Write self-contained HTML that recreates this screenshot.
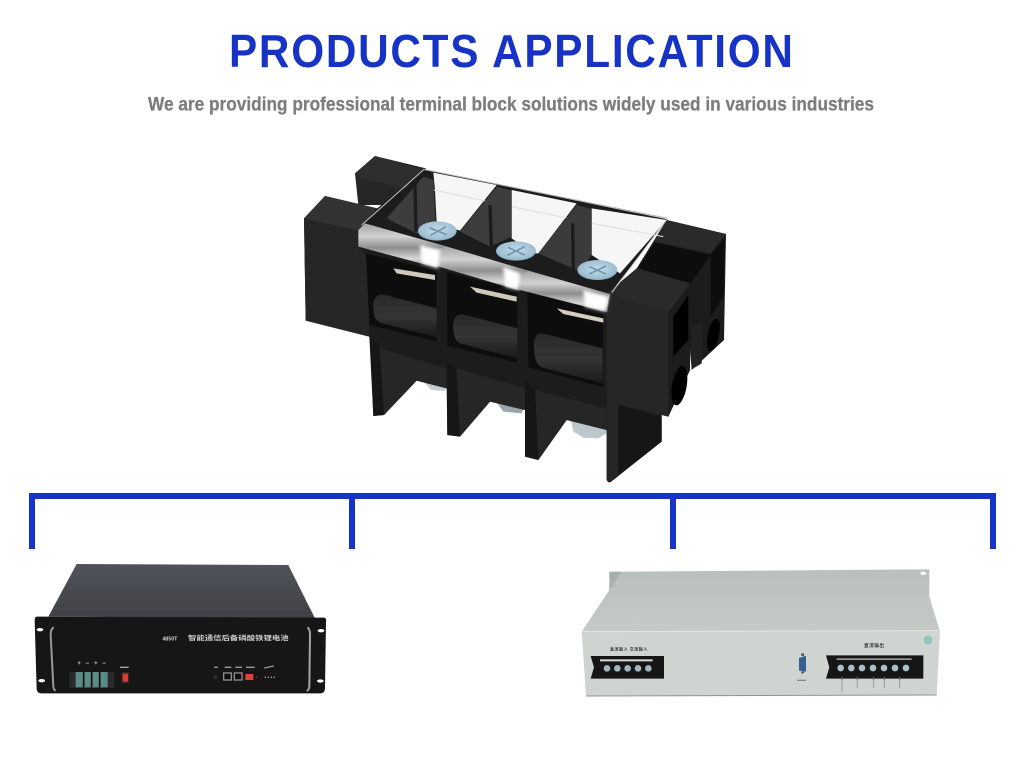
<!DOCTYPE html>
<html><head><meta charset="utf-8"><style>
html,body{margin:0;padding:0;background:#fff;width:1024px;height:768px;overflow:hidden}
svg{display:block}
text{font-family:"Liberation Sans","Noto Sans CJK SC",sans-serif}
</style></head><body>
<svg width="1024" height="768" viewBox="0 0 1024 768" xmlns="http://www.w3.org/2000/svg">
<defs>
<linearGradient id="roll" x1="0" y1="0" x2="0" y2="1"><stop offset="0" stop-color="#a2a2a2"/><stop offset=".3" stop-color="#d2d2d2"/><stop offset=".55" stop-color="#8e8e8e"/><stop offset=".8" stop-color="#d8d8d8"/><stop offset="1" stop-color="#7c7c7c"/></linearGradient>
<linearGradient id="cyl" x1="0" y1="0" x2="0" y2="1"><stop offset="0" stop-color="#2a2a2a"/><stop offset=".5" stop-color="#343434"/><stop offset="1" stop-color="#1b1b1b"/></linearGradient>
<radialGradient id="screw" cx=".5" cy=".45" r=".6"><stop offset="0" stop-color="#c6dbe8"/><stop offset=".75" stop-color="#9fc0d3"/><stop offset="1" stop-color="#7fa0b4"/></radialGradient>
<linearGradient id="top1" x1="0" y1="0" x2="0" y2="1"><stop offset="0" stop-color="#505359"/><stop offset="1" stop-color="#3f4147"/></linearGradient>
<linearGradient id="top2" x1="0" y1="0" x2="0" y2="1"><stop offset="0" stop-color="#b9c0bc"/><stop offset="1" stop-color="#c4cac7"/></linearGradient>
<filter id="soft"><feGaussianBlur stdDeviation=".45"/></filter>
<filter id="glow"><feGaussianBlur stdDeviation="5"/></filter>
</defs>
<rect width="1024" height="768" fill="#fff"/>

<g transform="scale(.92 1)">
<text x="555.4" y="67" font-size="46" font-weight="700" fill="#1733c6" text-anchor="middle" textLength="613" lengthAdjust="spacing">PRODUCTS APPLICATION</text>
</g>
<text x="511" y="110.500" font-size="19.500" font-weight="700" fill="#7d7d7d" stroke="#7d7d7d" stroke-width=".3" text-anchor="middle" textLength="726" lengthAdjust="spacingAndGlyphs">We are providing professional terminal block solutions widely used in various industries</text>

<g fill="#1733c6">
<rect x="29" y="493" width="967" height="6"/>
<rect x="29" y="493" width="6" height="56"/>
<rect x="349" y="493" width="6" height="56"/>
<rect x="670" y="493" width="6" height="56"/>
<rect x="990" y="493" width="6" height="56"/>
</g>

<!-- Terminal block (drawn in 3x crop coordinates) -->
<g transform="translate(290 140) scale(.33333)" filter="url(#soft)">
<!-- back blocks -->
<path d="M1040 385L1130 240L1308 282L1302 600L1205 690L1195 560Z" fill="#1a1a1a"/>
<path d="M1130 240L1308 282L1262 340L1095 305Z" fill="#2a2a2a"/>
<path d="M1045 385L1095 308L1262 345L1200 430Z" fill="#0a0a0a"/>
<path d="M1262 345L1304 295L1300 470L1262 530Z" fill="#090909"/>
<ellipse cx="1270" cy="585" rx="17" ry="50" transform="rotate(12 1270 585)" fill="#050505"/>
<path d="M1205 560L1240 545L1235 670L1205 688Z" fill="#242424"/>
<path d="M195 100L255 48L408 85L330 170L300 195L205 195Z" fill="#252525"/>
<!-- bolts behind -->
<path d="M395 720L425 750L465 753L470 735Z" fill="#c3cdd0"/>
<path d="M615 780L640 815L695 820L705 795Z" fill="#9aa7ac"/>
<path d="M840 830L850 875L880 893L925 895L950 880L950 850Z" fill="#bcc8cc"/>
<!-- main silhouette -->
<path d="M42 235L105 168L262 205L400 88L1133 238L960 460L1040 385L1202 430L1200 690L1135 830L1115 825L1115 905L960 1028L950 1020L950 870L830 840L745 960L705 950L705 810L600 785L510 890L472 885L470 745L380 722L282 825L250 828L238 590L47 542Z" fill="#1e1e1e"/>
<!-- left block faces -->
<path d="M42 235L105 168L262 205L205 272Z" fill="#303030"/>
<path d="M42 235L205 272L205 325L230 345L238 590L47 542Z" fill="#262626"/>
<!-- back-left lighter top -->
<path d="M195 100L255 48L400 88L345 145L210 115Z" fill="#2d2d2d"/>
<!-- windows -->
<path d="M228 340L440 392L440 605L238 555Z" fill="#111"/>
<path d="M470 395L682 452L682 668L472 618Z" fill="#111"/>
<path d="M712 450L940 515L940 742L715 682Z" fill="#111"/>
<path d="M250 490Q255 458 285 465L440 505L440 592L270 548Q248 540 250 490Z" fill="url(#cyl)"/>
<path d="M490 548Q495 518 525 525L682 565L682 655L510 610Q488 600 490 548Z" fill="url(#cyl)"/>
<path d="M732 605Q738 575 765 582L938 625L938 730L755 682Q730 670 732 605Z" fill="url(#cyl)"/>
<path d="M310 385L435 405L435 420L320 400Z" fill="#cfcabb"/>
<path d="M540 440L680 470L680 485L560 458Z" fill="#cfcabb"/>
<path d="M800 505L940 535L940 548L820 522Z" fill="#d4cfc0"/>
<!-- lower body: inner faces of legs -->
<path d="M270 625L470 685L470 745L380 722L282 825L270 820Z" fill="#252525"/>
<path d="M500 685L705 745L705 810L600 785L510 890Z" fill="#252525"/>
<path d="M735 750L950 805L950 870L830 840L745 960Z" fill="#252525"/>
<path d="M240 592L268 615L282 825L250 828Z" fill="#151515"/>
<path d="M470 660L498 685L510 890L472 885Z" fill="#151515"/>
<path d="M705 720L735 750L745 960L705 950Z" fill="#151515"/>
<!-- right lower leg -->
<path d="M950 780L985 795L985 1000L955 1028L950 1020Z" fill="#262626"/>
<path d="M985 795L1115 830L1115 905L985 1003Z" fill="#191919"/>
<!-- front-right block -->
<path d="M950 460L1040 385L1202 430L1135 515Z" fill="#2c2c2c"/>
<path d="M950 460L1135 515L1135 830L950 785Z" fill="#282828"/>
<path d="M1135 515L1202 430L1200 690L1135 830Z" fill="#1f1f1f"/>
<path d="M1150 530L1195 465L1195 600L1150 650Z" fill="#060606"/>
<ellipse cx="1168" cy="737" rx="22" ry="60" transform="rotate(10 1168 737)" fill="#060606"/>
<!-- clear cover: white panes between fins -->
<path d="M430 98L620 135L510 272L440 250L435 150Z" fill="#f6f6f6"/>
<path d="M665 150L860 190L745 340L730 340L665 295Z" fill="#f6f6f6"/>
<path d="M905 205L1130 240L990 400L905 345Z" fill="#f6f6f6"/>
<path d="M400 88L1133 235" stroke="#b0b0b0" stroke-width="3" fill="none"/>
<path d="M402 88L215 255" stroke="#c4c4c4" stroke-width="3" fill="none"/>
<path d="M1133 235L965 458" stroke="#cfcfcf" stroke-width="3" fill="none"/>
<path d="M430 150L620 190M665 200L860 240M905 250L1120 290" stroke="#ddd" stroke-width="3" fill="none"/>
<!-- fins -->
<path d="M400 110L430 120L438 290L380 280L290 235Z" fill="#3e3e3e"/>
<path d="M620 140L665 152L665 290L600 320L510 275Z" fill="#3c3c3c"/>
<path d="M860 195L905 207L905 345L870 395L745 340Z" fill="#3a3a3a"/>
<path d="M375 135L378 275M600 195L604 320M848 250L850 390" stroke="#1d1d1d" stroke-width="10" fill="none"/>
<!-- rolled edge of the cover -->
<path d="M205 270L225 250L465 318L440 330L440 383L205 320Z" fill="url(#roll)"/>
<path d="M440 330L465 318L715 392L690 405L690 452L440 378Z" fill="url(#roll)"/>
<path d="M690 405L715 392L960 462L950 516L690 450Z" fill="url(#roll)"/>
<g fill="#fff" filter="url(#glow)">
<path d="M390 315L450 330L445 385L395 370Z"/>
<path d="M640 380L690 400L685 450L645 440Z"/>
<path d="M880 450L955 470L945 515L885 500Z"/>
</g>
<path d="M960 462L950 516" stroke="#8a8a8a" stroke-width="3"/>
<!-- screws -->
<ellipse cx="442" cy="273" rx="58" ry="29" fill="url(#screw)"/>
<ellipse cx="678" cy="333" rx="60" ry="29" fill="url(#screw)"/>
<ellipse cx="922" cy="390" rx="60" ry="30" fill="url(#screw)"/>
<path d="M418 263L470 284M468 260L422 286M654 322L704 345M704 320L652 346M898 380L948 402M948 378L898 402" stroke="#6f96ad" stroke-width="5" fill="none"/>
</g>

<!-- Battery unit (3x crop coordinates) -->
<g transform="translate(20 550) scale(.33333)" filter="url(#soft)">
<path d="M170 42L805 45L885 205L85 200Z" fill="url(#top1)"/>
<path d="M50 200L912 203Q920 204 918 215L915 415Q915 430 900 430L65 430Q52 430 50 418L44 212Q44 201 50 200Z" fill="#141416"/>
<ellipse cx="60" cy="239" rx="10" ry="5" fill="#fff"/><ellipse cx="65" cy="392" rx="10" ry="5" fill="#fff"/>
<ellipse cx="903" cy="242" rx="10" ry="5" fill="#fff"/><ellipse cx="901" cy="393" rx="10" ry="5" fill="#fff"/>
<path d="M101 232Q92 236 92 255L100 410Q101 420 107 422" stroke="#9a9a9a" stroke-width="6" fill="none"/>
<path d="M862 232Q870 236 870 255L868 410Q867 420 860 423" stroke="#a5a5a5" stroke-width="6" fill="none"/>
<text x="427" y="271" font-size="16" font-weight="700" fill="#d0d0d0">4850T</text>
<text x="504" y="270" font-size="19" font-weight="700" fill="#cfcfcf" textLength="302" lengthAdjust="spacingAndGlyphs">智能通信后备磷酸铁锂电池</text>
<text x="172" y="345" font-size="18" fill="#d0d0d0" font-weight="700" textLength="86" lengthAdjust="spacing">+−+−</text>
<rect x="148" y="366" width="135" height="48" fill="#2c2c2c"/>
<rect x="167" y="366" width="96" height="46" fill="#5a8b86"/>
<path d="M191 366V412M215 366V412M239 366V412" stroke="#111" stroke-width="5"/>
<rect x="305" y="366" width="22" height="34" fill="#2a2a2a"/><rect x="308" y="371" width="16" height="24" fill="#d83a30"/>
<rect x="300" y="350" width="26" height="4" fill="#aaa"/>
<circle cx="587" cy="381" r="7" fill="#2a2a2a"/>
<rect x="609" y="367" width="27" height="25" fill="#8e8e8e"/><rect x="613" y="371" width="19" height="17" fill="#111"/>
<rect x="641" y="367" width="27" height="25" fill="#8e8e8e"/><rect x="645" y="371" width="19" height="17" fill="#111"/>
<rect x="676" y="372" width="24" height="18" fill="#d8433a"/>
<path d="M582 352h12M614 352h20M646 352h20M678 352h26M733 354l28-6" stroke="#9a9a9a" stroke-width="4"/>
<path d="M734 382h32" stroke="#a0a0a0" stroke-width="4" stroke-dasharray="4 5"/>
<circle cx="710" cy="381" r="2" fill="#c33"/>
</g>

<!-- Power unit (3x crop coordinates) -->
<g transform="translate(570 560) scale(.33333)" filter="url(#soft)">
<path d="M118 35L155 35L118 95Z" fill="#a7b0ad"/>
<path d="M155 35L1078 28L1078 110L1110 215L35 215Z" fill="url(#top2)"/>
<ellipse cx="1060" cy="40" rx="9" ry="5" fill="#fff"/>
<path d="M35 215L1110 212L1100 405L48 408Z" fill="#cfd4d1"/>
<path d="M48 408L1100 405" stroke="#8d9492" stroke-width="3"/>
<path d="M35 215L1110 212" stroke="#e2e5e3" stroke-width="3"/>
<circle cx="1074" cy="240" r="13" fill="#8ec5c0"/>
<text x="120" y="272" font-size="12" font-weight="700" fill="#333" textLength="112" lengthAdjust="spacing">直流输入 交流输入</text>
<text x="882" y="261" font-size="14" font-weight="700" fill="#333" textLength="60" lengthAdjust="spacing">直流输出</text>
<path d="M62 288H282V356H62L72 322Z" fill="#131313"/>
<rect x="90" y="298" width="158" height="6" fill="#d7d7d7"/>
<g fill="#9eb6bd"><circle cx="111" cy="325" r="10"/><circle cx="142" cy="325" r="10"/><circle cx="173" cy="325" r="10"/><circle cx="204" cy="325" r="10"/><circle cx="235" cy="325" r="10"/></g>
<path d="M768 286H1060V356H768L778 322Z" fill="#131313"/>
<rect x="800" y="295" width="225" height="5" fill="#9b9b9b"/>
<g fill="#a7c1c8"><circle cx="812" cy="324" r="10"/><circle cx="844" cy="324" r="10"/><circle cx="876" cy="324" r="10"/><circle cx="909" cy="324" r="10"/><circle cx="942" cy="324" r="10"/><circle cx="975" cy="324" r="10"/><circle cx="1008" cy="324" r="10"/></g>
<path d="M687 294L708 287L708 335L687 332Z" fill="#35608f"/>
<rect x="694" y="280" width="8" height="8" fill="#555"/><rect x="694" y="334" width="8" height="6" fill="#555"/>
<path d="M816 350v45M862 350v34M911 350v34M943 350v34M989 350v34" stroke="#6a6a6a" stroke-width="3" stroke-dasharray="4 3"/>
<rect x="682" y="359" width="26" height="4" fill="#888"/>
</g>
</svg>
</body></html>
